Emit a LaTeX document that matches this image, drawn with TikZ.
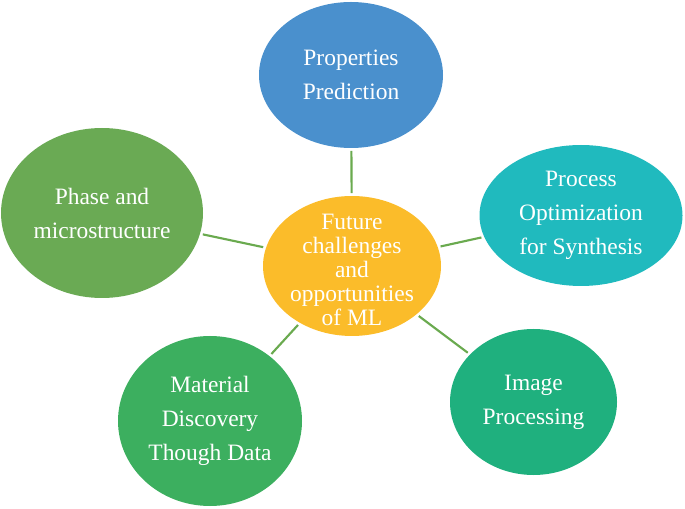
\documentclass[tikz,border=0pt]{standalone}
\usepackage{fontspec}
\setmainfont{Liberation Serif}
\newfontfamily\bubblefont{Liberation Serif}
\usetikzlibrary{shapes.geometric}

\definecolor{cblue}{RGB}{74,144,205}
\definecolor{cleaf}{RGB}{106,170,84}
\definecolor{cgold}{RGB}{251,188,42}
\definecolor{cteal}{RGB}{32,186,190}
\definecolor{cjade}{RGB}{31,176,126}
\definecolor{cgrass}{RGB}{60,175,95}
\definecolor{clink}{RGB}{106,170,79}

\begin{document}
\begin{tikzpicture}[
  x=0.75pt, y=-0.75pt,
  topic/.style={ellipse, draw=none, fill=#1, inner sep=0pt},
  txt/.style={text=white, align=center, inner sep=0pt,
              font=\bubblefont\fontsize{17.6}{25.5}\selectfont},
  coretxt/.style={txt, font=\bubblefont\fontsize{17.6}{18}\selectfont},
  lk/.style={draw=clink, line width=1.6pt, shorten <=2pt, shorten >=2pt}
]
  \useasboundingbox (0,0) rectangle (685,509);
  % the six bubbles
  \node[topic=cgold, minimum width=133.5pt, minimum height=105pt] (core) at (352,266) {};
  \node[topic=cblue, minimum width=138pt, minimum height=109.5pt] (prop) at (351,75) {};
  \node[topic=cleaf, minimum width=151.5pt, minimum height=127.5pt] (phase) at (102,213) {};
  \node[topic=cteal, minimum width=152.25pt, minimum height=105.75pt] (synth) at (581,215.5) {};
  \node[topic=cjade, minimum width=125.25pt, minimum height=109.5pt] (image) at (533.5,402) {};
  \node[topic=cgrass, minimum width=138pt, minimum height=127.5pt] (disc) at (210,421) {};
  % spokes
  \foreach \n in {prop,phase,synth,image,disc} \draw[lk] (core) -- (\n);
  % texts
  \node[coretxt] (core-t) at ([yshift=-3pt]core) {Future\\challenges\\and\\opportunities\\of ML};
  \node[txt] (prop-t) at (prop) {Properties\\Prediction};
  \node[txt] (phase-t) at (phase) {Phase and\\microstructure};
  \node[txt] (synth-t) at (synth) {Process\\Optimization\\for Synthesis};
  \node[txt] (image-t) at (image) {Image\\Processing};
  \node[txt] (disc-t) at (disc) {Material\\Discovery\\Though Data};
\end{tikzpicture}
\end{document}
